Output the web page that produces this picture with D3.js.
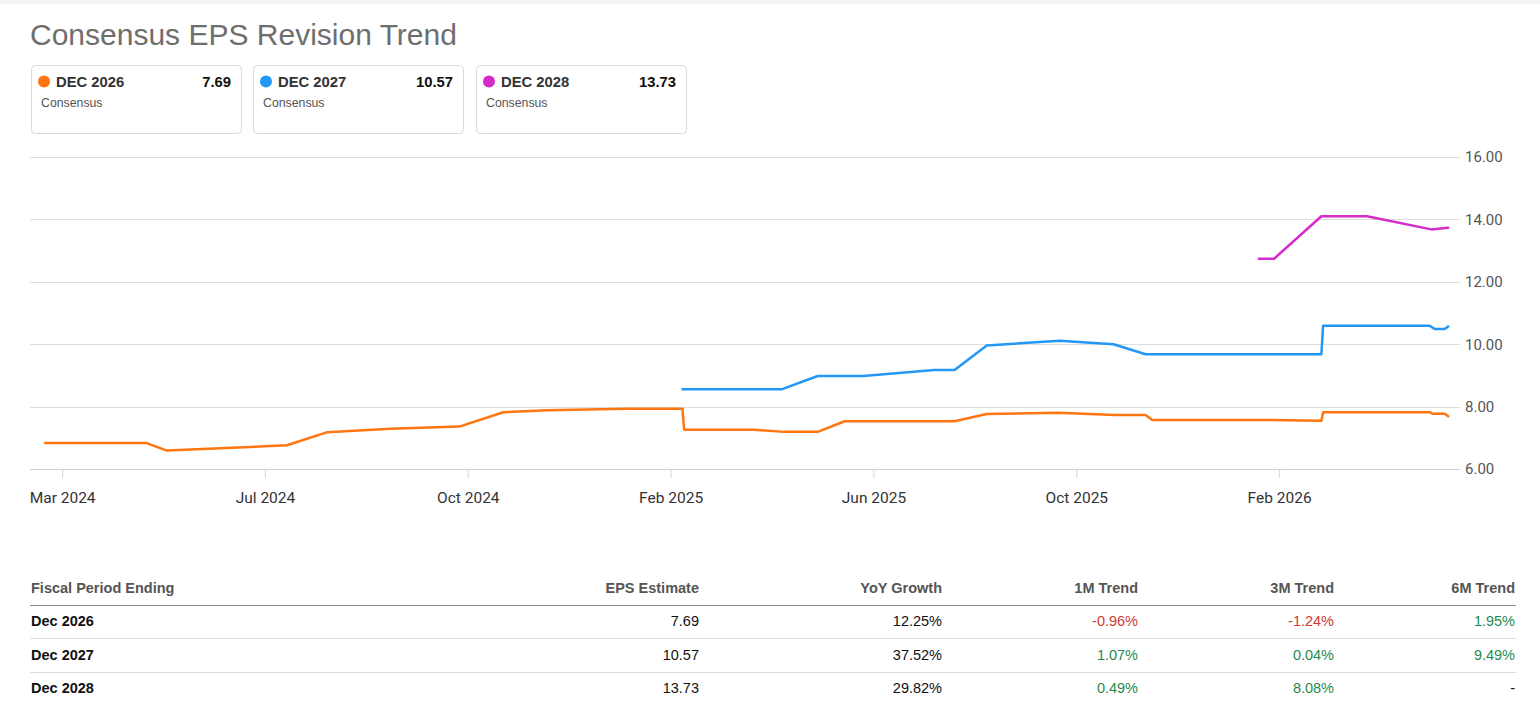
<!DOCTYPE html>
<html>
<head>
<meta charset="utf-8">
<script src="https://cdn.jsdelivr.net/npm/d3@7"></script>
<style>
    body { margin: 0; background: #fff; }
    svg { display: block; }
</style>
</head>
<body>
<svg id="drawing_region"></svg>
<script>
// --- data ---
const seriesNames = ['DEC 2026', 'DEC 2027', 'DEC 2028'];

const dec2026Dates = ['2024-02-24', '2024-04-24', '2024-05-06', '2024-07-16', '2024-08-09', '2024-09-15',
    '2024-10-26', '2024-11-21', '2024-12-17', '2025-02-02', '2025-03-07', '2025-03-08', '2025-04-18',
    '2025-05-06', '2025-05-26', '2025-06-11', '2025-08-15', '2025-09-03', '2025-10-15', '2025-11-18',
    '2025-12-06', '2025-12-10', '2026-02-16', '2026-03-20', '2026-03-21', '2026-05-23', '2026-05-25',
    '2026-06-01', '2026-06-03'];
const dec2026Values = [6.83, 6.83, 6.59, 6.76, 7.18, 7.29, 7.36, 7.82, 7.88, 7.93, 7.93, 7.26, 7.26,
    7.19, 7.19, 7.53, 7.53, 7.76, 7.80, 7.73, 7.73, 7.57, 7.57, 7.55, 7.82, 7.82, 7.77, 7.77, 7.69];

const dec2027Dates = ['2025-03-07', '2025-05-05', '2025-05-26', '2025-06-22', '2025-08-03', '2025-08-15',
    '2025-09-03', '2025-10-16', '2025-11-17', '2025-12-06', '2026-03-20', '2026-03-21', '2026-05-23',
    '2026-05-26', '2026-06-01', '2026-06-03'];
const dec2027Values = [8.56, 8.56, 8.98, 8.98, 9.17, 9.17, 9.96, 10.11, 10.00, 9.68, 9.68, 10.59, 10.59,
    10.49, 10.49, 10.57];

const dec2028Dates = ['2026-02-11', '2026-02-20', '2026-03-20', '2026-04-16', '2026-05-24', '2026-06-03'];
const dec2028Values = [12.74, 12.74, 14.10, 14.10, 13.68, 13.73];

const xTickDates = ['2024-03-05', '2024-07-03', '2024-10-31', '2025-02-28', '2025-06-28', '2025-10-26', '2026-02-23'];
const yTickValues = [6, 8, 10, 12, 14, 16];

// table
const periods = ['Dec 2026', 'Dec 2027', 'Dec 2028'];
const epsEstimates = [7.69, 10.57, 13.73];
const yoyGrowth = [12.25, 37.52, 29.82];
const trend1M = [-0.96, 1.07, 0.49];
const trend3M = [-1.24, 0.04, 8.08];
const trend6M = [1.95, 9.49, null];
const tableHeaders = ['Fiscal Period Ending', 'EPS Estimate', 'YoY Growth', '1M Trend', '3M Trend', '6M Trend'];

const colors = ['#ff7510', '#2397f5', '#d52bc9'];
const parseDate = d3.timeParse('%Y-%m-%d');
const arial = "Arial, 'Liberation Sans', sans-serif";
const roboto = "Roboto, Arial, sans-serif";

const series = [
    { name: seriesNames[0], values: dec2026Dates.map((d, i) => ({ date: parseDate(d), value: dec2026Values[i] })) },
    { name: seriesNames[1], values: dec2027Dates.map((d, i) => ({ date: parseDate(d), value: dec2027Values[i] })) },
    { name: seriesNames[2], values: dec2028Dates.map((d, i) => ({ date: parseDate(d), value: dec2028Values[i] })) }
];

const svg = d3.select('#drawing_region')
    .attr('width', 1540)
    .attr('height', 723);

svg.append('rect')
    .attr('x', 0).attr('y', 0)
    .attr('width', 1540).attr('height', 4)
    .attr('fill', '#f3f3f3');

svg.append('text')
    .attr('x', 30).attr('y', 45)
    .attr('font-family', arial)
    .attr('font-size', 30)
    .attr('fill', '#6e6e6e')
    .text('Consensus EPS Revision Trend');

// legend cards
const cardX = [31, 253, 476];
const cards = svg.selectAll('.card')
    .data(series)
    .join('g')
    .attr('class', 'card')
    .attr('transform', (d, i) => `translate(${cardX[i]}, 65)`);

cards.append('rect')
    .attr('x', 0.5).attr('y', 0.5)
    .attr('width', 210).attr('height', 68)
    .attr('rx', 4)
    .attr('fill', '#fff')
    .attr('stroke', '#d9d9d9');

cards.append('circle')
    .attr('cx', 13).attr('cy', 16.5)
    .attr('r', 6)
    .attr('fill', (d, i) => colors[i]);

cards.append('text')
    .attr('x', 25).attr('y', 21.5)
    .attr('font-family', arial).attr('font-size', 14.8).attr('font-weight', 'bold')
    .attr('fill', '#333')
    .text(d => d.name);

cards.append('text')
    .attr('x', 200).attr('y', 21.5)
    .attr('text-anchor', 'end')
    .attr('font-family', arial).attr('font-size', 14.8).attr('font-weight', 'bold')
    .attr('fill', '#111')
    .text((d, i) => epsEstimates[i].toFixed(2));

cards.append('text')
    .attr('x', 10).attr('y', 41.5)
    .attr('font-family', arial).attr('font-size', 12.3)
    .attr('fill', '#555')
    .text('Consensus');

// --- line chart ---
class TrendChart {
    constructor(config, data) {
        this.config = config;
        this.data = data;
        this.init();
    }

    init() {
        let self = this;
        self.chart = svg.append('g');

        self.xscale = d3.scaleTime()
            .domain([parseDate('2024-02-15'), parseDate('2026-06-10')])
            .range([self.config.left, self.config.right]);

        self.yscale = d3.scaleLinear()
            .domain([6, 16])
            .range([self.config.bottom, self.config.top]);

        self.grid_group = self.chart.append('g');
        self.xaxis_group = self.chart.append('g')
            .attr('transform', `translate(0, ${self.config.bottom})`);
        self.yaxis_group = self.chart.append('g')
            .attr('transform', `translate(${self.config.right}, 0)`);
        self.line_group = self.chart.append('g');
    }

    render() {
        let self = this;

        self.grid_group.selectAll('line')
            .data(yTickValues)
            .join('line')
            .attr('x1', self.config.left)
            .attr('x2', self.config.right)
            .attr('y1', d => Math.round(self.yscale(d)) + 0.5)
            .attr('y2', d => Math.round(self.yscale(d)) + 0.5)
            .attr('stroke', d => d === 6 ? '#cfcfcf' : '#dedede');

        const xaxis = d3.axisBottom(self.xscale)
            .tickValues(xTickDates.map(parseDate))
            .tickFormat(d3.timeFormat('%b %Y'))
            .tickSize(9)
            .tickPadding(14);

        self.xaxis_group.call(xaxis);
        self.xaxis_group.select('.domain').remove();
        self.xaxis_group.selectAll('.tick line').attr('stroke', '#d6d6d6');
        self.xaxis_group.selectAll('.tick text')
            .attr('font-family', roboto).attr('font-size', 15.5).attr('fill', '#333');

        const yaxis = d3.axisRight(self.yscale)
            .tickValues(yTickValues)
            .tickFormat(d3.format('.2f'))
            .tickSize(0)
            .tickPadding(5);

        self.yaxis_group.call(yaxis);
        self.yaxis_group.select('.domain').remove();
        self.yaxis_group.selectAll('.tick text')
            .attr('font-family', roboto).attr('font-size', 15).attr('fill', '#555');

        const line = d3.line()
            .x(d => self.xscale(d.date))
            .y(d => self.yscale(d.value));

        self.line_group.selectAll('path')
            .data(self.data)
            .join('path')
            .attr('d', d => line(d.values))
            .attr('fill', 'none')
            .attr('stroke', (d, i) => colors[i])
            .attr('stroke-width', 2.5)
            .attr('stroke-linejoin', 'round')
            .attr('stroke-linecap', 'round');
    }
}

const trend_chart = new TrendChart({ left: 30, right: 1460, top: 157, bottom: 469 }, series);
trend_chart.render();

// --- table ---
const colRight = [null, 699, 942, 1138, 1334, 1515];
const table = svg.append('g');

table.selectAll('.header')
    .data(tableHeaders)
    .join('text')
    .attr('class', 'header')
    .attr('x', (d, i) => i === 0 ? 31 : colRight[i])
    .attr('y', 593)
    .attr('text-anchor', (d, i) => i === 0 ? 'start' : 'end')
    .attr('font-family', arial).attr('font-size', 14.5).attr('font-weight', 'bold')
    .attr('fill', '#555')
    .text(d => d);

table.append('line')
    .attr('x1', 30).attr('x2', 1516)
    .attr('y1', 605.5).attr('y2', 605.5)
    .attr('stroke', '#8a8a8a');

const rowY = [626, 660, 693];
[638.5, 672.5].forEach(y => {
    table.append('line')
        .attr('x1', 30).attr('x2', 1516)
        .attr('y1', y).attr('y2', y)
        .attr('stroke', '#dcdcdc');
});

const pct = v => v === null ? '-' : v.toFixed(2) + '%';
const trendColor = v => v === null ? '#111' : (v < 0 ? '#cf3a3a' : '#1f8a50');

periods.forEach((p, i) => {
    const cells = [
        { text: p, color: '#111', bold: true },
        { text: epsEstimates[i].toFixed(2), color: '#111' },
        { text: pct(yoyGrowth[i]), color: '#111' },
        { text: pct(trend1M[i]), color: trendColor(trend1M[i]) },
        { text: pct(trend3M[i]), color: trendColor(trend3M[i]) },
        { text: pct(trend6M[i]), color: trendColor(trend6M[i]) }
    ];
    table.append('g')
        .selectAll('text')
        .data(cells)
        .join('text')
        .attr('x', (d, j) => j === 0 ? 31 : colRight[j])
        .attr('y', rowY[i])
        .attr('text-anchor', (d, j) => j === 0 ? 'start' : 'end')
        .attr('font-family', arial).attr('font-size', 14.5)
        .attr('font-weight', d => d.bold ? 'bold' : 'normal')
        .attr('fill', d => d.color)
        .text(d => d.text);
});
</script>
</body>
</html>
